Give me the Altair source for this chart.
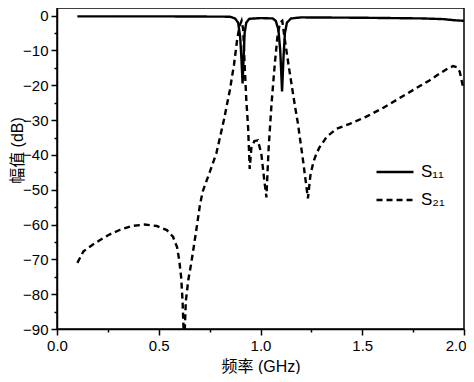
import altair as alt
import pandas as pd

# S11 trace (frequency in GHz, magnitude in dB)
s11_f = [0.10, 0.30, 0.50, 0.70, 0.85, 0.875, 0.89, 0.90, 0.906, 0.912, 0.917, 0.922, 0.93, 0.945,
         1.00, 1.06, 1.075, 1.088, 1.097, 1.106, 1.113, 1.12, 1.13, 1.15, 1.20, 1.50, 1.80, 1.90, 1.95, 2.00]
s11_db = [-0.2, -0.2, -0.2, -0.25, -0.3, -0.8, -2.0, -6.0, -12.0, -19.5, -12.0, -5.0, -2.0, -0.9,
          -0.7, -0.8, -1.5, -4.0, -10.0, -21.8, -12.0, -5.0, -2.0, -0.8, -0.5, -0.6, -0.8, -1.0, -1.3, -1.5]

# S21 trace
s21_f = [0.10, 0.13, 0.17, 0.21, 0.26, 0.31, 0.37, 0.43, 0.49, 0.54, 0.57, 0.59, 0.60, 0.61, 0.617,
         0.622, 0.625, 0.628, 0.633, 0.645, 0.66, 0.686, 0.702, 0.716, 0.75, 0.783, 0.82, 0.849, 0.87,
         0.885, 0.897, 0.907, 0.915, 0.922, 0.93, 0.939, 0.947, 0.955, 0.97, 0.987, 1.004, 1.018, 1.029,
         1.04, 1.054, 1.07, 1.085, 1.097, 1.107, 1.119, 1.14, 1.168, 1.184, 1.21, 1.233, 1.245, 1.26,
         1.275, 1.291, 1.307, 1.324, 1.373, 1.438, 1.52, 1.602, 1.68, 1.766, 1.83, 1.881, 1.92, 1.946,
         1.965, 1.979, 1.995, 2.00]
s21_db = [-71.0, -67.7, -66.0, -64.5, -62.8, -61.5, -60.4, -60.0, -60.4, -61.6, -63.5, -66.5, -70.0, -75.0, -82.0,
          -90.0, -95.0, -90.0, -82.0, -76.0, -71.0, -61.0, -54.5, -50.5, -45.0, -39.6, -30.0, -21.5, -14.0,
          -7.0, -3.0, -1.5, -4.0, -14.0, -24.0, -32.0, -44.0, -38.0, -36.0, -35.8, -39.6, -47.0, -52.2,
          -38.0, -25.5, -14.0, -5.0, -2.0, -1.5, -6.7, -15.0, -25.5, -31.0, -42.0, -52.5, -46.0, -42.0,
          -39.6, -37.7, -36.4, -34.9, -32.5, -31.1, -29.0, -26.5, -23.8, -20.8, -18.6, -16.6, -15.2, -14.5,
          -14.8, -16.1, -20.4, -21.0]

series_names = ["S₁₁", "S₂₁"]

df = pd.concat([
    pd.DataFrame({"f": s11_f, "db": s11_db, "series": series_names[0]}),
    pd.DataFrame({"f": s21_f, "db": s21_db, "series": series_names[1]}),
], ignore_index=True)

y_vals = list(range(-90, 1, 5))
x_vals = [0.0, 0.25, 0.5, 0.75, 1.0, 1.25, 1.5, 1.75, 2.0]

FONT = "Liberation Sans, Arial, Noto Sans CJK SC"

chart = alt.Chart(df).mark_line(strokeWidth=2.4, clip=True, color="black").encode(
    x=alt.X("f:Q",
            scale=alt.Scale(domain=[0, 2], nice=False, zero=False),
            axis=alt.Axis(values=x_vals, title="频率 (GHz)", format=".1f",
                          labelExpr="abs(datum.value*2 - round(datum.value*2)) < 0.01 ? datum.label : ''",
                          tickSize={"condition": {"test": "abs(datum.value*2 - round(datum.value*2)) > 0.01", "value": 3}, "value": 6},
                          labelFlush=False,
                          labelAlign={"condition": {"test": "datum.value >= 1.99", "value": "right"}, "value": "center"},
                          labelOffset={"condition": {"test": "datum.value >= 1.99", "value": 2}, "value": 0},
                          grid=False, labelFontSize=15, titleFontSize=16, labelPadding=3,
                          titleY=29, titleFontWeight="normal")),
    y=alt.Y("db:Q",
            scale=alt.Scale(domain=[-90, 2.2], nice=False, zero=False),
            axis=alt.Axis(values=y_vals, title="幅值 (dB)",
                          labelExpr="datum.value % 10 === 0 ? datum.label : ''",
                          tickSize={"condition": {"test": "datum.value % 10 !== 0", "value": 3}, "value": 6},
                          grid=False, labelFontSize=15, titleFontSize=16, labelPadding=3,
                          titleX=-40, titleY=142, titleAlign="center", titleBaseline="middle",
                          titleAngle=-90, titleFontWeight="normal")),
    strokeDash=alt.StrokeDash("series:N",
                              scale=alt.Scale(domain=series_names, range=[[1, 0], [6, 4]]),
                              legend=alt.Legend(title=None, orient="none", legendX=318, legendY=144,
                                                symbolType="stroke", symbolSize=1369, symbolStrokeWidth=2.4,
                                                symbolStrokeColor="black", labelFontSize=17,
                                                labelFont=FONT, labelOffset=6, rowPadding=-1, padding=0,
                                                labelColor="black")),
    order=alt.Order("f:Q"),
).properties(
    width=407, height=321,
    padding={"left": 49, "top": 0, "right": 2, "bottom": 45},
    autosize=alt.AutoSizeParams(type="none"),
).configure_axis(
    labelFont=FONT, titleFont=FONT, labelColor="black", titleColor="black",
    domainColor="black", tickColor="black", domainWidth=1.5, tickWidth=1.5,
).configure_view(
    stroke="black", strokeWidth=1.5,
)

chart.save("out.html", embed_options={"renderer": "svg", "actions": False})
